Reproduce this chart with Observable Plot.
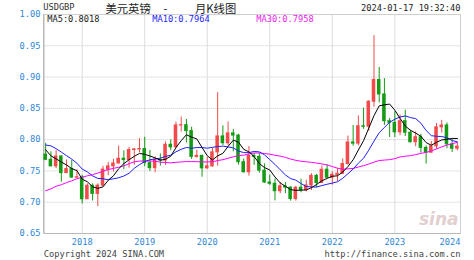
<!DOCTYPE html>
<html><head><meta charset="utf-8">
<script src="https://cdn.jsdelivr.net/npm/d3@7"></script>
<script src="https://cdn.jsdelivr.net/npm/@observablehq/plot@0.6"></script>
<style>
html,body{margin:0;padding:0;background:#fff}
svg{display:block}
</style>
</head><body><div id="chart"></div>
<script>
// Monthly candles, USD/GBP, Jun 2017 .. Jan 2024
const months = ["2017-06","2017-07","2017-08","2017-09","2017-10","2017-11","2017-12",
"2018-01","2018-02","2018-03","2018-04","2018-05","2018-06","2018-07","2018-08","2018-09","2018-10","2018-11","2018-12",
"2019-01","2019-02","2019-03","2019-04","2019-05","2019-06","2019-07","2019-08","2019-09","2019-10","2019-11","2019-12",
"2020-01","2020-02","2020-03","2020-04","2020-05","2020-06","2020-07","2020-08","2020-09","2020-10","2020-11","2020-12",
"2021-01","2021-02","2021-03","2021-04","2021-05","2021-06","2021-07","2021-08","2021-09","2021-10","2021-11","2021-12",
"2022-01","2022-02","2022-03","2022-04","2022-05","2022-06","2022-07","2022-08","2022-09","2022-10","2022-11","2022-12",
"2023-01","2023-02","2023-03","2023-04","2023-05","2023-06","2023-07","2023-08","2023-09","2023-10","2023-11","2023-12",
"2024-01"];
const open = [0.7761,0.7678,0.7573,0.7731,0.7465,0.7529,0.7394,
0.7400,0.7047,0.7262,0.7133,0.7265,0.7521,0.7573,0.7619,0.7695,0.7675,0.7834,0.7843,
0.7850,0.7625,0.7544,0.7675,0.7666,0.7918,0.7877,0.8227,0.8231,0.8137,0.7725,0.7740,
0.7541,0.7573,0.7797,0.8052,0.7943,0.8100,0.8065,0.7639,0.7479,0.7740,0.7725,0.7505,
0.7315,0.7294,0.7176,0.7254,0.7233,0.7052,0.7231,0.7194,0.7267,0.7421,0.7307,0.7519,
0.7391,0.7438,0.7454,0.7610,0.7955,0.7937,0.8214,0.8206,0.8606,0.8953,0.8722,0.8295,
0.8268,0.8117,0.8295,0.8110,0.7959,0.8039,0.7868,0.7791,0.7893,0.8197,0.8227,0.7924,
0.7855];
const high = [0.7943,0.7805,0.7828,0.7740,0.7676,0.7669,0.7519,
0.7429,0.7293,0.7293,0.7293,0.7573,0.7633,0.7686,0.7898,0.7821,0.7877,0.7860,0.8016,
0.8039,0.7829,0.7725,0.7772,0.7962,0.7996,0.8278,0.8362,0.8323,0.8200,0.7831,0.7752,
0.7720,0.7859,0.8750,0.8220,0.8282,0.8162,0.8087,0.7689,0.7889,0.7779,0.7779,0.7613,
0.7435,0.7371,0.7315,0.7315,0.7246,0.7254,0.7368,0.7352,0.7456,0.7444,0.7579,0.7598,
0.7486,0.7535,0.7692,0.8057,0.8227,0.8379,0.8503,0.8621,0.9662,0.9154,0.8975,0.8339,
0.8445,0.8393,0.8472,0.8147,0.8125,0.8085,0.7900,0.7970,0.8258,0.8308,0.8267,0.8000,
0.7938];
const low = [0.7664,0.7568,0.7537,0.7322,0.7463,0.7381,0.7380,
0.6971,0.7043,0.7020,0.6930,0.7249,0.7422,0.7483,0.7610,0.7520,0.7543,0.7590,0.7788,
0.7567,0.7491,0.7472,0.7578,0.7589,0.7823,0.7870,0.8123,0.7947,0.7684,0.7702,0.7399,
0.7527,0.7560,0.7576,0.7907,0.7907,0.7805,0.7593,0.7466,0.7417,0.7589,0.7464,0.7298,
0.7268,0.7022,0.7134,0.7138,0.7018,0.7018,0.7151,0.7164,0.7187,0.7229,0.7300,0.7384,
0.7273,0.7329,0.7442,0.7595,0.7895,0.7900,0.8165,0.8135,0.8519,0.8587,0.8228,0.8035,
0.8034,0.8064,0.8049,0.7947,0.7886,0.7783,0.7609,0.7788,0.7844,0.8106,0.7854,0.7796,
0.7822];
const close = [0.7678,0.7573,0.7731,0.7465,0.7529,0.7394,0.7400,
0.7047,0.7262,0.7133,0.7265,0.7521,0.7573,0.7619,0.7695,0.7675,0.7834,0.7843,0.7850,
0.7625,0.7544,0.7675,0.7666,0.7918,0.7877,0.8227,0.8231,0.8137,0.7725,0.7740,0.7541,
0.7573,0.7797,0.8052,0.7943,0.8100,0.8065,0.7639,0.7479,0.7740,0.7725,0.7505,0.7315,
0.7294,0.7176,0.7254,0.7233,0.7052,0.7231,0.7194,0.7267,0.7421,0.7307,0.7519,0.7391,
0.7438,0.7454,0.7610,0.7955,0.7937,0.8214,0.8206,0.8606,0.8953,0.8722,0.8295,0.8268,
0.8117,0.8295,0.8110,0.7959,0.8039,0.7868,0.7791,0.7893,0.8197,0.8227,0.7924,0.7855,
0.7889];
// closes before the visible window (Jan 2015 .. May 2017), needed for the moving averages
const priorCloses = [0.6653,0.6479,0.6744,0.6514,0.6542,0.6365,0.6404,0.6519,0.6612,0.6483,0.6649,0.6786,
0.7020,0.7184,0.6961,0.6842,0.6905,0.7513,0.7559,0.7616,0.7707,0.8177,0.8013,0.8104,
0.7949,0.8058,0.7968,0.7725,0.7761];
const yTicks = [0.65,0.70,0.75,0.80,0.85,0.90,0.95,1.00];
const yearLabels = ["2018","2019","2020","2021","2022","2023","2024"];
const titleParts = ["美元英镑", "-", "月K线图"];

const RED = "#f04a4a", GREEN = "#149a14";
const BLUE_TXT = "#2f87d4";
const MONO = "DejaVu Sans Mono";
const CJK = "Noto Sans CJK SC";

const data = months.map((m,i)=>({i, m, o:open[i], h:high[i], l:low[i], c:close[i], up: close[i] >= open[i]}));
const all = priorCloses.concat(close);
const P = priorCloses.length;
function ma(n){ return close.map((_,i)=>{ const j=i+P; return d3.mean(all.slice(j-n+1,j+1)); }); }
const ma5 = ma(5), ma10 = ma(10), ma30 = ma(30);
const maRows = (arr)=>arr.map((v,i)=>({i, v}));
const N = months.length;

const years = yearLabels.map(y=>({label:y, idx: months.indexOf(y+"-01")}));
const inner = years.filter(d=>d.label !== "2024");
const last = years.filter(d=>d.label === "2024");
const xDomain = [-0.365, N - 0.4];

const topText = (txt, opts) => Plot.text([txt], {frameAnchor:"top-left", lineAnchor:"middle", textAnchor:"start", ...opts});

const chart = Plot.plot({
  width: 474, height: 260,
  marginLeft: 43.3, marginRight: 14, marginTop: 14, marginBottom: 27,
  x: {domain: xDomain, axis: null},
  y: {domain: [0.65, 1.0]},
  style: {fontFamily: MONO, fontSize: "8.7px", background: "#fff", color: "#333", overflow: "visible"},
  marks: [
    Plot.gridY(yTicks.filter(v=>v>0.65 && v<1), {stroke:"#c8c8c8", strokeOpacity:1, strokeDasharray:"1,1"}),
    Plot.gridX(inner.map(d=>d.idx), {stroke:"#dcdcdc", strokeOpacity:1}),
    Plot.frame({stroke:"#cfcfcf"}),
    Plot.ruleX([xDomain[0]], {stroke:"#a8a8a8"}),
    Plot.ruleY([0.65], {stroke:"#b8b8b8"}),
    Plot.axisY(yTicks, {tickSize:0, tickPadding:3.3, tickFormat:d=>d.toFixed(2), fill:BLUE_TXT, fontFamily:MONO, fontSize:8.7}),
    Plot.text(["sina"], {frameAnchor:"bottom-right", dx:-2, dy:-9, textAnchor:"end", fontSize:17, fontWeight:"bold", fontStyle:"italic", fontFamily:"DejaVu Sans", fill:"#e2cfcf"}),
    Plot.ruleX(data, {x:"i", y1:"l", y2:"h", stroke:d=>d.up?RED:GREEN, strokeWidth:1}),
    Plot.rect(data, {x1:d=>d.i-0.34, x2:d=>d.i+0.34, y1:"o", y2:"c", fill:d=>d.up?RED:GREEN, insetTop:-0.5, insetBottom:-0.5}),
    Plot.line(maRows(ma30), {x:"i", y:"v", stroke:"#ff00ff", strokeWidth:1}),
    Plot.line(maRows(ma10), {x:"i", y:"v", stroke:"#1f1fff", strokeWidth:1}),
    Plot.line(maRows(ma5), {x:"i", y:"v", stroke:"#000", strokeWidth:1}),
    Plot.text(inner, {x:"idx", text:"label", frameAnchor:"bottom", dy:9, lineAnchor:"middle", fill:BLUE_TXT}),
    Plot.text(last, {x:"idx", text:"label", frameAnchor:"bottom", dy:9, dx:3, textAnchor:"end", lineAnchor:"middle", fill:BLUE_TXT}),
    topText("USDGBP", {dx:-0.6, dy:-7, fill:"#333"}),
    topText(titleParts[0], {dx:61.7, dy:-5.2, fontFamily:CJK, fontSize:11.3, fill:"#222"}),
    topText(titleParts[1], {dx:119.7, dy:-5.2, fontFamily:CJK, fontSize:11.3, fill:"#222"}),
    topText(titleParts[2], {dx:151.2, dy:-5.2, fontFamily:CJK, fontSize:11.3, fill:"#222"}),
    Plot.text(["2024-01-17 19:32:40"], {frameAnchor:"top-right", dx:0, dy:-6, lineAnchor:"middle", textAnchor:"end", fill:"#222"}),
    topText("MA5:" + ma5[N-1].toFixed(4), {dx:3.4, dy:5.2, fill:"#222"}),
    topText("MA10:" + ma10[N-1].toFixed(4), {dx:108.4, dy:5.2, fill:"#2525ff"}),
    topText("MA30:" + ma30[N-1].toFixed(4), {dx:212.4, dy:5.2, fill:"#ee22ee"}),
    Plot.text(["Copyright 2024 SINA.COM"], {frameAnchor:"bottom-left", dx:0, dy:20.3, lineAnchor:"middle", textAnchor:"start", fill:"#444"}),
    Plot.text(["http://finance.sina.com.cn"], {frameAnchor:"bottom-right", dx:0, dy:20.3, lineAnchor:"middle", textAnchor:"end", fill:"#444"})
  ]
});
document.getElementById("chart").appendChild(chart);
</script>
</body></html>
